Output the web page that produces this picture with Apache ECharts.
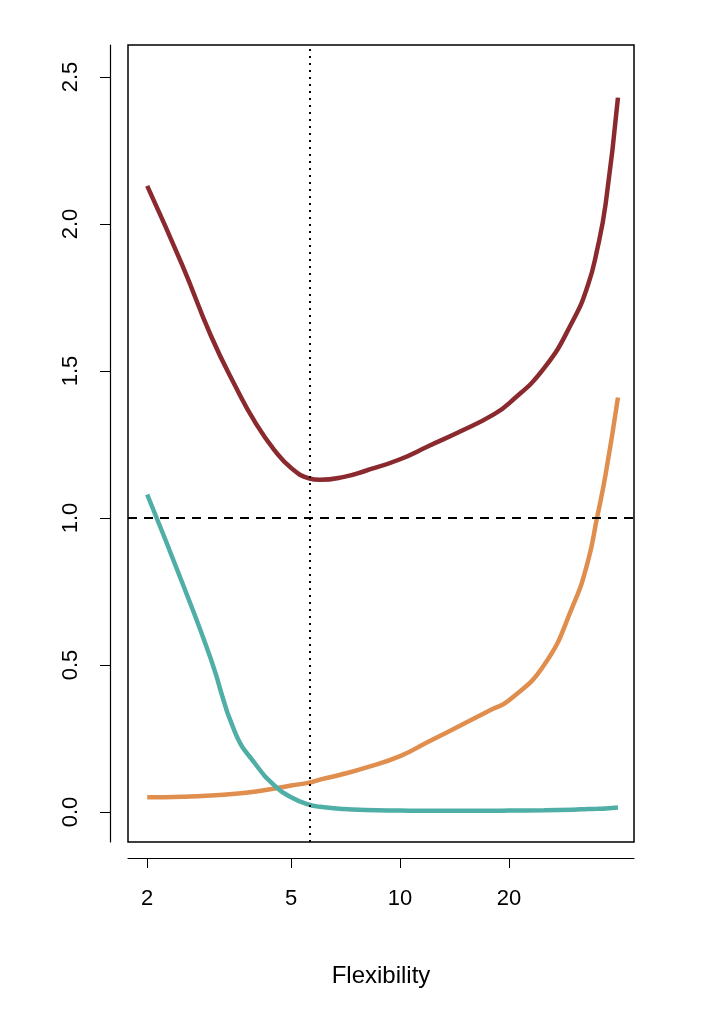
<!DOCTYPE html>
<html><head><meta charset="utf-8">
<script src="https://cdn.jsdelivr.net/npm/echarts@6/dist/echarts.min.js"></script>
<style>html,body{margin:0;background:#fff}#c{width:714px;height:1024px}</style>
</head><body><div id="c"></div>
<script>
const flex = [2,2.5,3,3.5,4,4.5,5,5.6,6,7,8,10,12,15,18,20,25,30,33,35,37,40];
const testMSE = [2.13,1.86,1.62,1.45,1.32,1.23,1.17,1.135,1.13,1.14,1.16,1.2,1.245,1.3,1.35,1.39,1.51,1.67,1.79,1.91,2.07,2.43];
const variance = [0.05,0.052,0.056,0.062,0.07,0.08,0.09,0.1,0.11,0.13,0.15,0.19,0.24,0.3,0.35,0.38,0.5,0.7,0.85,1.0,1.15,1.41];
const bias = [1.08,0.78,0.52,0.27,0.16,0.09,0.05,0.025,0.018,0.01,0.007,0.005,0.004,0.004,0.004,0.005,0.006,0.008,0.01,0.011,0.012,0.015];
const xTicks = [2,5,10,20];
const yTicks = [0,0.5,1.0,1.5,2.0,2.5];
const optimum = 5.6;
const L = v => Math.log10(v);
const pts = arr => flex.map((f,i)=>[L(f),arr[i]]);
const font = 'Liberation Sans';
const chart = echarts.init(document.getElementById('c'));
chart.setOption({
  animation:false,
  grid:{left:128,right:80,top:45,bottom:182,show:true,borderColor:'#000',borderWidth:1.5},
  xAxis:{type:'value',min:L(1.77),max:L(44.3),offset:16,
    name:'Flexibility',nameLocation:'middle',nameGap:106,nameTextStyle:{fontFamily:font,fontSize:24,color:'#000'},
    axisLine:{show:true,onZero:false,lineStyle:{color:'#000',width:1.2}},
    axisTick:{show:true,length:10,customValues:xTicks.map(L),lineStyle:{color:'#000'}},
    axisLabel:{customValues:xTicks.map(L),formatter:v=>String(Math.round(Math.pow(10,v))),fontFamily:font,fontSize:22,color:'#000',margin:30},
    splitLine:{show:false}},
  yAxis:{type:'value',min:-0.102,max:2.609,offset:18,
    axisLine:{show:true,onZero:false,lineStyle:{color:'#000',width:1.2}},
    axisTick:{show:true,length:10,customValues:yTicks,lineStyle:{color:'#000'}},
    axisLabel:{customValues:yTicks,formatter:v=>v.toFixed(1),rotate:90,fontFamily:font,fontSize:22,color:'#000',margin:28},
    splitLine:{show:false}},
  series:[
    {type:'line',data:pts(testMSE),smooth:0.5,showSymbol:false,lineStyle:{color:'#8B2A2E',width:4.5},
     markLine:{silent:true,symbol:'none',label:{show:false},data:[
       {yAxis:1,lineStyle:{color:'#000',type:[9,7],width:2}},
       {xAxis:L(optimum),lineStyle:{color:'#000',type:[2,5],width:2}}]}},
    {type:'line',data:pts(variance),smooth:0.5,showSymbol:false,lineStyle:{color:'#E08E4E',width:4.5}},
    {type:'line',data:pts(bias),smooth:0.5,showSymbol:false,lineStyle:{color:'#4FAFA6',width:4.5}}
  ]
});
</script></body></html>
